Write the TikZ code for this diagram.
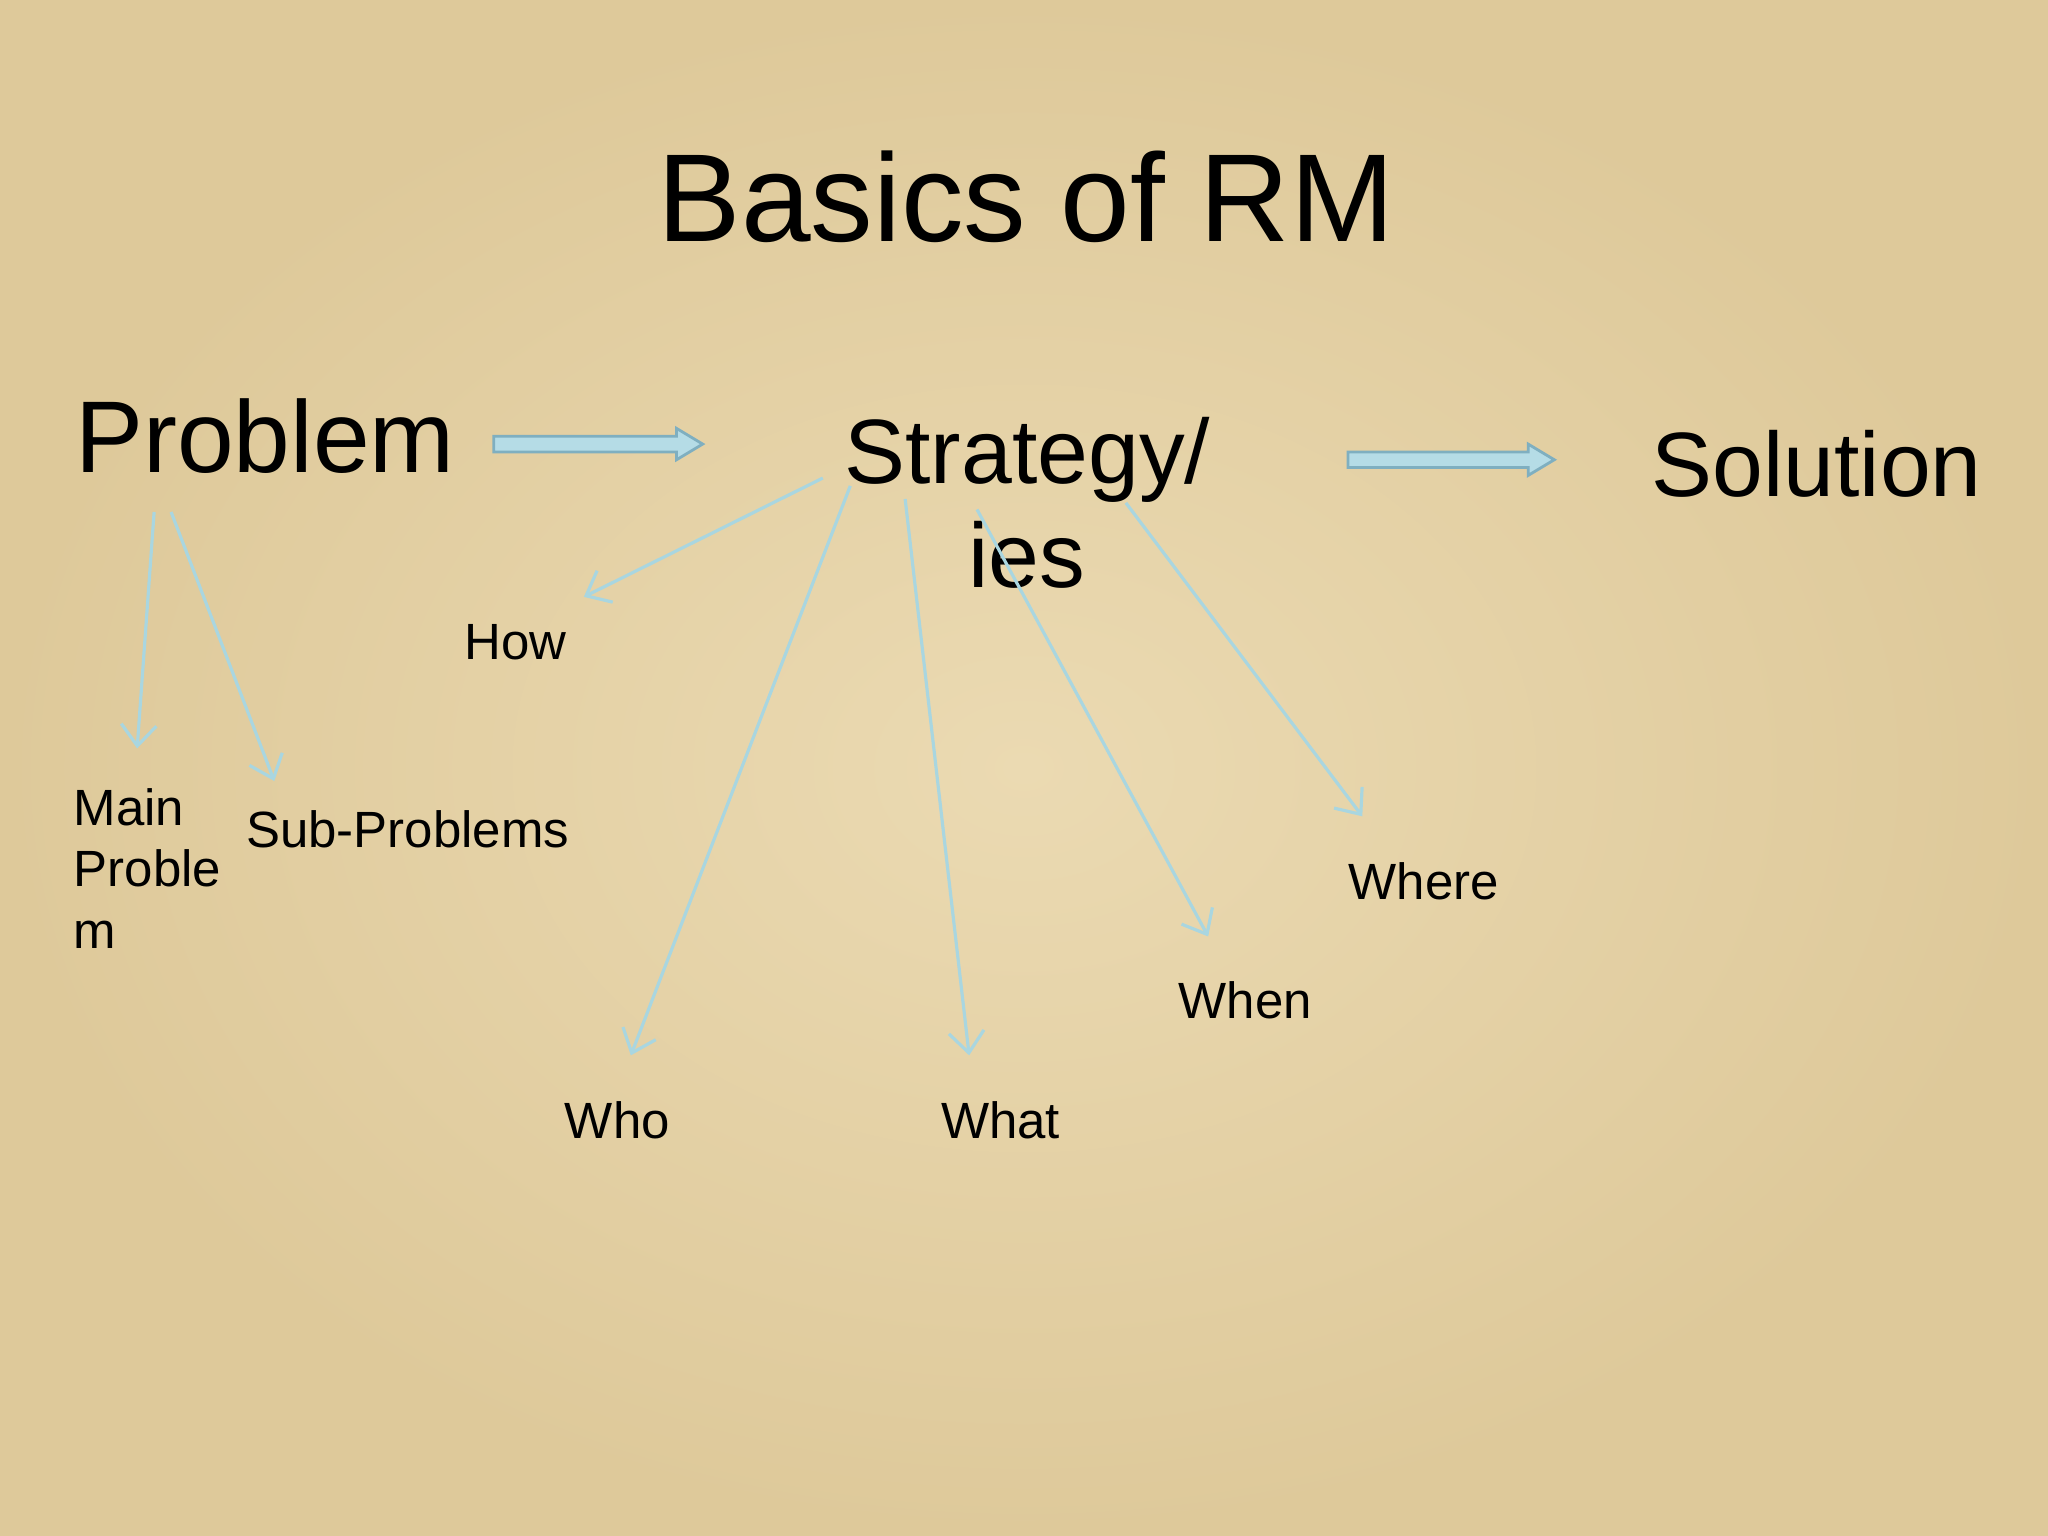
\documentclass[tikz,border=0pt]{standalone}
\usepackage{fontspec}
\setmainfont{Liberation Sans}
\usetikzlibrary{arrows.meta}
\definecolor{bg}{HTML}{EBDAB2}
\definecolor{bgdark}{HTML}{DEC99A}
\definecolor{ln}{HTML}{A9D6E0}
\definecolor{arrfill}{HTML}{B5DCE6}
\definecolor{arrline}{HTML}{7FAFC0}
\tikzset{
 lbl/.style={anchor=base west,inner sep=0pt,font=\fontsize{14.5}{17.5}\selectfont},
 big/.style={anchor=base west,inner sep=0pt,font=\fontsize{26}{30}\selectfont},
 thin/.style={draw=ln,line width=0.9pt,-{Straight Barb[length=6pt,width=10pt]}},
 blockarr/.style={draw=arrline,fill=arrfill,line width=0.8pt,line join=miter}
}
\begin{document}
\begin{tikzpicture}[x=0.013061cm,y=-0.013061cm]
\useasboundingbox (0,0) rectangle (1568,1176);
\shade[inner color=bg,outer color=bgdark] (0,0) rectangle (1568,1176);
\node[anchor=base west,inner sep=0pt,font=\fontsize{35.6}{40}\selectfont] (title) at (503,185) {Basics of RM};
\node[big,font=\fontsize{29}{30}\selectfont] (prob) at (57,362) {Problem};
\node[big] (strat) at (646,370) {Strategy/};
\node[big] (ies) at (741,450) {ies};
\node[big] (sol) at (1264,380) {Solution};
\coordinate (a1) at (378,340);
\coordinate (a2) at (1032,352);
\draw[blockarr] (a1) ++(0,-6) -- ++(140,0) -- ++(0,-6) -- ++(20,12) -- ++(-20,12) -- ++(0,-6) -- ++(-140,0) -- cycle;
\draw[blockarr] (a2) ++(0,-6) -- ++(138,0) -- ++(0,-6) -- ++(20,12) -- ++(-20,12) -- ++(0,-6) -- ++(-138,0) -- cycle;
\node[lbl] (how) at (355,505) {How};
\node[lbl,align=left,anchor=north west] (main) at (56,603) {Main\\Proble\\m};
\node[lbl] (sub) at (188,649) {Sub-Problems};
\node[lbl] (where) at (1032,689) {Where};
\node[lbl] (when) at (902,780) {When};
\node[lbl] (who) at (432,872) {Who};
\node[lbl] (what) at (720,872) {What};
\coordinate (p1) at (118,392); \coordinate (p1e) at (105,573);
\coordinate (p2) at (131,392); \coordinate (p2e) at (210,598);
\coordinate (s1) at (630,366); \coordinate (s1e) at (447,457);
\coordinate (s2) at (651,372); \coordinate (s2e) at (483,808);
\coordinate (s3) at (693,382); \coordinate (s3e) at (742,808);
\coordinate (s4) at (748,390); \coordinate (s4e) at (925,717);
\coordinate (s5) at (862,385); \coordinate (s5e) at (1043,625);
\draw[thin] (p1) -- (p1e);
\draw[thin] (p2) -- (p2e);
\draw[thin] (s1) -- (s1e);
\draw[thin] (s2) -- (s2e);
\draw[thin] (s3) -- (s3e);
\draw[thin] (s4) -- (s4e);
\draw[thin] (s5) -- (s5e);
\end{tikzpicture}
\end{document}
